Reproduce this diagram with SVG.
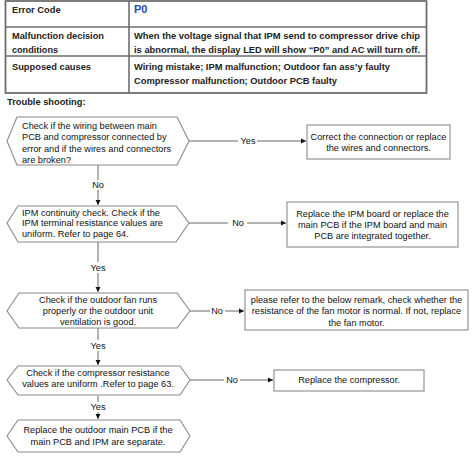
<svg xmlns="http://www.w3.org/2000/svg" width="474" height="456" viewBox="0 0 474 456">
<defs>
<style>
.t{font-family:"Liberation Sans",Arial,sans-serif;font-size:9.2px;fill:#111}
.tb{font-family:"Liberation Sans",Arial,sans-serif;font-size:9.3px;font-weight:bold;fill:#222}
.m{text-anchor:middle}
.shape{fill:#fff;stroke:#8a8a8a;stroke-width:1.1}
.c{fill:none;stroke:#555;stroke-width:0.9}
.lbl{font-family:"Liberation Sans",Arial,sans-serif;font-size:9.2px;fill:#111;text-anchor:middle}
</style>
<marker id="ah" markerWidth="6" markerHeight="6" refX="5" refY="3" orient="auto" markerUnits="userSpaceOnUse">
<path d="M0,0.5 L5,3 L0,5.5 Z" fill="#111"/>
</marker>
</defs>
<rect width="474" height="456" fill="#fff"/>
<g id="table">
<rect x="5.5" y="1" width="421" height="92" fill="none" stroke="#6e6e6e" stroke-width="1.8"/>
<line x1="129" y1="1" x2="129" y2="93" stroke="#6e6e6e" stroke-width="1.6"/>
<line x1="5.5" y1="27" x2="426.5" y2="27" stroke="#6e6e6e" stroke-width="1.4"/>
<line x1="5.5" y1="56" x2="426.5" y2="56" stroke="#6e6e6e" stroke-width="1.4"/>
<text class="tb" x="12" y="13">Error Code</text>
<text x="134" y="13" font-family="Liberation Sans,Arial,sans-serif" font-size="11" font-weight="bold" fill="#1f4fa8">P0</text>
<text class="tb" x="12" y="39" textLength="92" lengthAdjust="spacingAndGlyphs">Malfunction decision</text>
<text class="tb" x="12" y="53" textLength="46" lengthAdjust="spacingAndGlyphs">conditions</text>
<text class="tb" x="134" y="39" textLength="286" lengthAdjust="spacingAndGlyphs">When the voltage signal that IPM send to compressor drive chip</text>
<text class="tb" x="134" y="53" textLength="286" lengthAdjust="spacingAndGlyphs">is abnormal, the display LED will show “P0” and AC will turn off.</text>
<text class="tb" x="12" y="70" textLength="79" lengthAdjust="spacingAndGlyphs">Supposed causes</text>
<text class="tb" x="134" y="70" textLength="256" lengthAdjust="spacingAndGlyphs">Wiring mistake; IPM malfunction; Outdoor fan ass’y faulty</text>
<text class="tb" x="134" y="84" textLength="203" lengthAdjust="spacingAndGlyphs">Compressor malfunction; Outdoor PCB faulty</text>
</g>
<text class="tb" x="7" y="105">Trouble shooting:</text>
<g id="connectors">
<path class="c" d="M189,141 H238 M257,141 H306" marker-end="url(#ah)"/>
<text class="lbl" x="248" y="144">Yes</text>
<path class="c" d="M98,165 V180 M98,190 V205" marker-end="url(#ah)"/>
<text class="lbl" x="98" y="188">No</text>
<path class="c" d="M189,223 H228 M247,223 H286" marker-end="url(#ah)"/>
<text class="lbl" x="238" y="226">No</text>
<path class="c" d="M98,242 V262 M98,273 V292" marker-end="url(#ah)"/>
<text class="lbl" x="98" y="271">Yes</text>
<path class="c" d="M190,311 H210 M225,311 H244" marker-end="url(#ah)"/>
<text class="lbl" x="217" y="314">No</text>
<path class="c" d="M98,328 V340 M98,351 V365" marker-end="url(#ah)"/>
<text class="lbl" x="98" y="349">Yes</text>
<path class="c" d="M190,380 H224 M240,380 H273" marker-end="url(#ah)"/>
<text class="lbl" x="232" y="383">No</text>
<path class="c" d="M98,396 V402 M98,412 V419" marker-end="url(#ah)"/>
<text class="lbl" x="98" y="410">Yes</text>
</g>
<g id="d1">
<path class="shape" d="M17,117 H177 L189,141 L177,165 H17 L7,141 Z"/>
<text class="t" x="22" y="129">Check if the wiring between main</text>
<text class="t" x="22" y="140">PCB and compressor connected by</text>
<text class="t" x="22" y="152">error and if the wires and connectors</text>
<text class="t" x="22" y="163">are broken?</text>
</g>
<g id="b1">
<rect class="shape" x="307" y="125" width="143" height="34"/>
<text class="t m" x="378.5" y="140">Correct the connection or replace</text>
<text class="t m" x="378.5" y="151">the wires and connectors.</text>
</g>
<g id="d2">
<path class="shape" d="M18,206 H176 L189,223 L176,242 H18 L7,223 Z"/>
<text class="t" x="22" y="216">IPM continuity check. Check if the</text>
<text class="t" x="22" y="226">IPM terminal resistance values are</text>
<text class="t" x="22" y="237">uniform. Refer to page 64.</text>
</g>
<g id="b2">
<rect class="shape" x="287" y="202" width="171" height="45"/>
<text class="t m" x="372.5" y="217">Replace the IPM board or replace the</text>
<text class="t m" x="372.5" y="228">main PCB if the IPM board and main</text>
<text class="t m" x="372.5" y="239">PCB are integrated together.</text>
</g>
<g id="d3">
<path class="shape" d="M19,293 H177 L190,311 L177,328 H19 L7,311 Z"/>
<text class="t m" x="98" y="303">Check if the outdoor fan runs</text>
<text class="t m" x="98" y="314">properly or the outdoor unit</text>
<text class="t m" x="98" y="325">ventilation is good.</text>
</g>
<g id="b3">
<rect class="shape" x="245" y="290" width="223" height="40"/>
<text class="t m" x="356.5" y="303">please refer to the below remark, check whether the</text>
<text class="t m" x="356.5" y="314">resistance of the fan motor is normal. If not, replace</text>
<text class="t m" x="356.5" y="326">the fan motor.</text>
</g>
<g id="d4">
<path class="shape" d="M18,366 H180 L190,380 L180,395 H18 L7,380 Z"/>
<text class="t m" x="98" y="376">Check if the compressor resistance</text>
<text class="t m" x="98" y="387">values are uniform .Refer to page 63.</text>
</g>
<g id="b4">
<rect class="shape" x="274" y="370" width="150" height="21"/>
<text class="t m" x="349" y="383">Replace the compressor.</text>
</g>
<g id="d5">
<path class="shape" d="M18,420 H180 L190,436 L180,452 H18 L7,436 Z"/>
<text class="t m" x="98" y="433">Replace the outdoor main PCB if the</text>
<text class="t m" x="98" y="445">main PCB and IPM are separate.</text>
</g>
</svg>
